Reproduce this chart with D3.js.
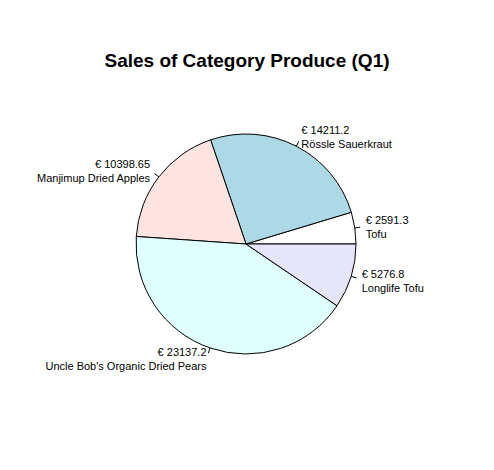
<!DOCTYPE html>
<html><head><meta charset="utf-8">
<script src="https://cdn.jsdelivr.net/npm/d3@7"></script>
<style>body{margin:0;background:#fff}text{font-family:"Liberation Sans",Arial,sans-serif}</style>
</head><body><svg id="canvas"></svg>
<script>
var products = ['Tofu', 'Rössle Sauerkraut', 'Manjimup Dried Apples', "Uncle Bob's Organic Dried Pears", 'Longlife Tofu'];
var sales = [2591.3, 14211.2, 10398.65, 23137.2, 5276.8];
var colors = ['white', 'lightblue', 'mistyrose', 'lightcyan', 'lavender'];

var width = 494, height = 470;
var cx = 246, cy = 244, radius = 110;

var svg = d3.select('#canvas').attr('width', width).attr('height', height);

svg.append('text')
  .attr('x', width / 2).attr('y', 67)
  .attr('text-anchor', 'middle')
  .style('font-size', '19px').style('font-weight', 'bold')
  .text('Sales of Category Produce (Q1)');

// counter-clockwise from 3 o'clock, like R's pie()
var pie = d3.pie().sort(null)
  .startAngle(Math.PI / 2)
  .endAngle(Math.PI / 2 - 2 * Math.PI);
var arcs = pie(sales);
var arc = d3.arc().innerRadius(0).outerRadius(radius);

var g = svg.append('g').attr('transform', 'translate(' + cx + ',' + cy + ')');

g.selectAll('path').data(arcs).enter().append('path')
  .attr('d', arc)
  .attr('fill', function(d, i) { return colors[i]; })
  .attr('stroke', 'black').attr('stroke-width', 1);

var labels = g.selectAll('.lab').data(arcs).enter().append('g').classed('lab', true);
function mid(d) { return (d.startAngle + d.endAngle) / 2; }

labels.append('line')
  .attr('x1', function(d) { return Math.sin(mid(d)) * radius; })
  .attr('y1', function(d) { return -Math.cos(mid(d)) * radius; })
  .attr('x2', function(d) { return Math.sin(mid(d)) * radius * 1.05; })
  .attr('y2', function(d) { return -Math.cos(mid(d)) * radius * 1.05; })
  .attr('stroke', 'black');

var txt = labels.append('text')
  .attr('transform', function(d) {
    return 'translate(' + (Math.sin(mid(d)) * radius * 1.1) + ',' + (-Math.cos(mid(d)) * radius * 1.1) + ')';
  })
  .attr('text-anchor', function(d) { return Math.sin(mid(d)) >= 0 ? 'start' : 'end'; })
  .style('font-size', '11px');
txt.append('tspan').attr('x', 0).attr('y', -2)
  .text(function(d, i) { return '€ ' + sales[i]; });
txt.append('tspan').attr('x', 0).attr('y', 12)
  .text(function(d, i) { return products[i]; });
</script></body></html>
